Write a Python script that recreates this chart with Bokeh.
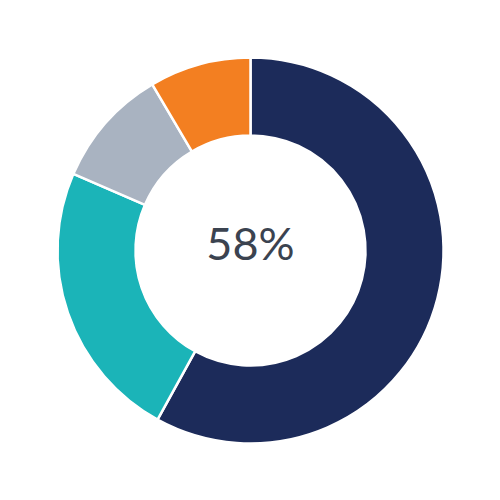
from bokeh.plotting import figure
from bokeh.models import ColumnDataSource, Range1d
from bokeh.core.properties import value
from bokeh.embed import file_html
from bokeh.resources import INLINE
import math

labels = ["A", "B", "C", "D"]
values = [58, 23.5, 10, 8.5]
colors = ["#1c2b5a", "#1bb4b8", "#a9b3c1", "#f37f21"]
center_label = "58%"

total = sum(values)
starts, ends = [], []
acc = 0.0
for v in values:
    s = math.pi / 2 - 2 * math.pi * acc / total
    acc += v
    e = math.pi / 2 - 2 * math.pi * acc / total
    starts.append(s)
    ends.append(e)

src = ColumnDataSource(dict(label=labels, value=values, color=colors, start=starts, end=ends))

p = figure(width=484, height=484, output_backend="svg", toolbar_location=None,
           x_range=Range1d(-250, 234), y_range=Range1d(-234, 250), min_border=0)
p.axis.visible = False
p.grid.visible = False
p.outline_line_color = None
p.background_fill_color = "white"
p.border_fill_color = "white"

p.annular_wedge(x=0, y=0, inner_radius=115, outer_radius=193, start_angle="start", end_angle="end",
                direction="clock", fill_color="color", line_color="white", line_width=2.5, source=src)

p.text(x=[0], y=[8], text=[center_label], text_font=value("Lato"), text_font_size="45px",
       text_color="#3b4350", text_align="center", text_baseline="middle")

open("out.html", "w").write(file_html(p, INLINE))
